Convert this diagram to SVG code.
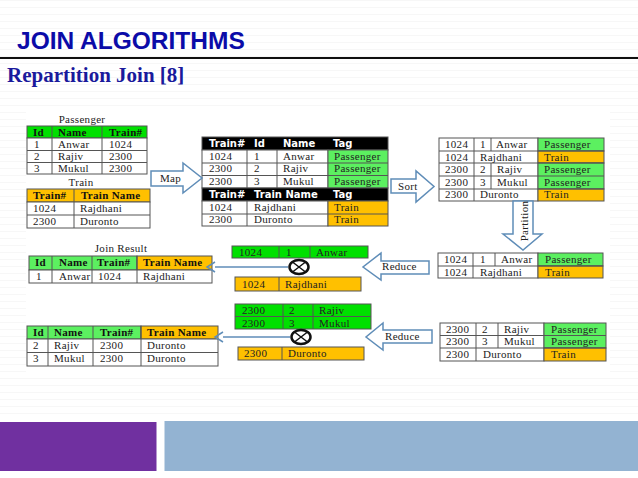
<svg xmlns="http://www.w3.org/2000/svg" width="638" height="478" viewBox="0 0 638 478">
<style>
text{font-family:"Liberation Serif","Times New Roman",serif;font-size:11px;fill:#222;letter-spacing:.3px}
.b{font-weight:bold;fill:#111}
.w{font-family:"DejaVu Sans",sans-serif;font-weight:bold;font-size:10px;fill:#fff;letter-spacing:0}
.c{fill:#fff;stroke:#555;stroke-width:1}
.g{fill:#00e000;stroke:#555;stroke-width:1}
.lg{fill:#5cf060;stroke:#555;stroke-width:1}
.o{fill:#ffc000;stroke:#555;stroke-width:1}
.k{fill:#000;stroke:#555;stroke-width:1}
.l{fill:none;stroke:#555;stroke-width:1}
.a{fill:#fff;stroke:#5f8db8;stroke-width:1.5}
.e{fill:#fff;stroke:#111;stroke-width:2.5}
.x{fill:none;stroke:#111;stroke-width:1.5}
.f{fill:none;stroke:#5f8db8;stroke-width:1.5}
</style>
<defs>
<pattern id="st" width="10" height="7" patternUnits="userSpaceOnUse"><rect width="10" height="1" fill="#f7f7f7"/></pattern>
<marker id="op" markerWidth="11" markerHeight="12" refX="1" refY="6" orient="auto" markerUnits="userSpaceOnUse"><path d="M9 1L1 6L9 11" class="f" transform="rotate(180 5 6)"/></marker>
</defs>
<rect width="638" height="478" fill="#fff"/>
<rect width="638" height="420" fill="url(#st)"/>
<rect x="26" y="106" width="584" height="266" fill="#fff"/>

<g id="header">
<text x="17" y="49" style="font-family:'Liberation Sans',Arial,sans-serif;font-weight:bold;font-size:24.500px;fill:#0b0ba8;letter-spacing:0">JOIN ALGORITHMS</text>
<rect x="0" y="57" width="638" height="2" fill="#111"/>
<text x="7" y="82" style="font-weight:bold;font-size:21px;fill:#1a1a9c;letter-spacing:0">Repartition Join [8]</text>
</g>

<g id="passenger-table">
<text x="82" y="123" text-anchor="middle">Passenger</text>
<rect class="g" x="27" y="126" width="120" height="12"/>
<rect class="c" x="27" y="138" width="120" height="36"/>
<path class="l" d="M27 150.500H147M27 162.500H147M52 126V174M102 126V174"/>
<text class="b" x="33" y="136">Id</text><text class="b" x="58" y="136">Name</text><text class="b" x="109" y="136">Train#</text>
<text x="34" y="148">1</text><text x="58" y="148">Anwar</text><text x="109" y="148">1024</text>
<text x="34" y="160">2</text><text x="58" y="160">Rajiv</text><text x="109" y="160">2300</text>
<text x="34" y="172">3</text><text x="58" y="172">Mukul</text><text x="109" y="172">2300</text>
</g>

<g id="train-table">
<text x="81" y="186" text-anchor="middle">Train</text>
<rect class="o" x="27" y="189" width="123" height="13"/>
<rect class="c" x="27" y="202" width="123" height="26"/>
<path class="l" d="M27 215H150M74 189V228"/>
<text class="b" x="33" y="199">Train#</text><text class="b" x="81" y="199">Train Name</text>
<text x="33" y="212">1024</text><text x="80" y="212">Rajdhani</text>
<text x="33" y="225">2300</text><text x="80" y="225">Duronto</text>
</g>

<g id="map-output-table">
<rect class="k" x="202" y="137" width="186" height="13"/>
<rect class="c" x="202" y="150" width="126" height="38"/>
<rect class="lg" x="328" y="150" width="60" height="38"/>
<path class="l" d="M202 163H388M202 175.500H388M247 150V188M277 150V188"/>
<rect class="k" x="202" y="188" width="186" height="13"/>
<rect class="c" x="202" y="201" width="126" height="25"/>
<rect class="o" x="328" y="201" width="60" height="25"/>
<path class="l" d="M202 214H388M247 201V226"/>
<text class="w" x="209" y="147">Train#</text><text class="w" x="254" y="147">Id</text><text class="w" x="283" y="147">Name</text><text class="w" x="333" y="147">Tag</text>
<text x="209" y="160">1024</text><text x="254" y="160">1</text><text x="283" y="160">Anwar</text><text x="334" y="160">Passenger</text>
<text x="209" y="172">2300</text><text x="254" y="172">2</text><text x="283" y="172">Rajiv</text><text x="334" y="172">Passenger</text>
<text x="209" y="185">2300</text><text x="254" y="185">3</text><text x="283" y="185">Mukul</text><text x="334" y="185">Passenger</text>
<text class="w" x="209" y="198">Train#</text><text class="w" x="254" y="198">Train Name</text><text class="w" x="333" y="198">Tag</text>
<text x="209" y="211">1024</text><text x="254" y="211">Rajdhani</text><text x="334" y="211">Train</text>
<text x="209" y="223">2300</text><text x="254" y="223">Duronto</text><text x="334" y="223">Train</text>
</g>

<g id="sorted-table">
<rect class="c" x="439" y="138" width="99" height="63"/>
<rect class="lg" x="538" y="138" width="66" height="13"/>
<rect class="o" x="538" y="151" width="66" height="12"/>
<rect class="lg" x="538" y="163" width="66" height="26"/>
<rect class="o" x="538" y="189" width="66" height="12"/>
<path class="l" d="M439 151H604M439 163H604M439 176H604M439 189H604M474 138V201M491 138V151M491 163V189"/>
<text x="445" y="148">1024</text><text x="480" y="148">1</text><text x="496" y="148">Anwar</text><text x="544" y="148">Passenger</text>
<text x="445" y="161">1024</text><text x="480" y="161">Rajdhani</text><text x="544" y="161">Train</text>
<text x="445" y="173">2300</text><text x="480" y="173">2</text><text x="497" y="173">Rajiv</text><text x="544" y="173">Passenger</text>
<text x="445" y="186">2300</text><text x="480" y="186">3</text><text x="497" y="186">Mukul</text><text x="544" y="186">Passenger</text>
<text x="445" y="198">2300</text><text x="480" y="198">Duronto</text><text x="544" y="198">Train</text>
</g>

<g id="partition-1-table">
<rect class="c" x="438" y="253" width="100" height="25"/>
<rect class="lg" x="538" y="253" width="65" height="13"/>
<rect class="o" x="538" y="266" width="65" height="12"/>
<path class="l" d="M438 266H603M473 253V278M495 253V266"/>
<text x="444" y="263">1024</text><text x="480" y="263">1</text><text x="501" y="263">Anwar</text><text x="545" y="263">Passenger</text>
<text x="444" y="276">1024</text><text x="480" y="276">Rajdhani</text><text x="545" y="276">Train</text>
</g>

<g id="partition-2-table">
<rect class="c" x="440" y="323" width="104" height="38"/>
<rect class="lg" x="544" y="323" width="62" height="25"/>
<rect class="o" x="544" y="348" width="62" height="13"/>
<path class="l" d="M440 335.500H606M440 348H606M476 323V361M498 323V348"/>
<text x="446" y="333">2300</text><text x="482" y="333">2</text><text x="504" y="333">Rajiv</text><text x="551" y="333">Passenger</text>
<text x="446" y="345">2300</text><text x="482" y="345">3</text><text x="504" y="345">Mukul</text><text x="551" y="345">Passenger</text>
<text x="446" y="358">2300</text><text x="483" y="358">Duronto</text><text x="551" y="358">Train</text>
</g>

<g id="join-input-1">
<rect class="g" x="232" y="246" width="136" height="12"/>
<path class="l" d="M279 246V258M310 246V258"/>
<text x="239" y="256">1024</text><text x="286" y="256">1</text><text x="316" y="256">Anwar</text>
<rect class="o" x="235" y="277" width="126" height="14"/>
<path class="l" d="M279 277V291"/>
<text x="242" y="288">1024</text><text x="285" y="288">Rajdhani</text>
</g>

<g id="join-input-2">
<rect class="g" x="235" y="304" width="136" height="25"/>
<path class="l" d="M235 316.500H371M283 304V329M313 304V329"/>
<text x="242" y="314">2300</text><text x="289" y="314">2</text><text x="319" y="314">Rajiv</text>
<text x="242" y="327">2300</text><text x="289" y="327">3</text><text x="319" y="327">Mukul</text>
<rect class="o" x="238" y="347" width="126" height="13"/>
<path class="l" d="M282 347V360"/>
<text x="244" y="357">2300</text><text x="288" y="357">Duronto</text>
</g>

<g id="join-result-table">
<text x="121" y="252" text-anchor="middle">Join Result</text>
<rect class="lg" x="29" y="256" width="108" height="14"/>
<rect class="o" x="137" y="256" width="75" height="14"/>
<rect class="c" x="29" y="270" width="183" height="13"/>
<path class="l" d="M52 256V283M92 256V283M137 256V283"/>
<text class="b" x="35" y="266">Id</text><text class="b" x="59" y="266">Name</text><text class="b" x="97" y="266">Train#</text><text class="b" x="143" y="266">Train Name</text>
<text x="36" y="280">1</text><text x="59" y="280">Anwar</text><text x="98" y="280">1024</text><text x="143" y="280">Rajdhani</text>
</g>

<g id="result-table-2">
<rect class="lg" x="27" y="326" width="114" height="13"/>
<rect class="o" x="141" y="326" width="77" height="13"/>
<rect class="c" x="27" y="339" width="191" height="27"/>
<path class="l" d="M27 352.500H218M48 326V366M93 326V366M141 326V366"/>
<text class="b" x="33" y="336">Id</text><text class="b" x="54" y="336">Name</text><text class="b" x="100" y="336">Train#</text><text class="b" x="147" y="336">Train Name</text>
<text x="33" y="349">2</text><text x="54" y="349">Rajiv</text><text x="100" y="349">2300</text><text x="147" y="349">Duronto</text>
<text x="33" y="362">3</text><text x="54" y="362">Mukul</text><text x="100" y="362">2300</text><text x="147" y="362">Duronto</text>
</g>

<g id="connectors">
<polygon class="a" points="151,171 183,171 183,163 202,178 183,193 183,186 151,186"/>
<text x="160" y="182">Map</text>
<polygon class="a" points="391,179 416,179 416,171 434,186.500 416,202 416,193 391,193"/>
<text x="398" y="190">Sort</text>
<polygon class="a" points="513,201 533,201 533,234 542,234 523,250 503,234 513,234"/>
<text transform="translate(528 221) rotate(-90)" text-anchor="middle">Partition</text>
<polygon class="a" points="429,261 381,261 381,253 363,267 381,280 381,274 429,274"/>
<text x="382" y="270">Reduce</text>
<polygon class="a" points="432,330 383,330 383,323 366,337 383,350 383,343 432,343"/>
<text x="385" y="340">Reduce</text>
<path class="f" d="M288 267H215" marker-end="url(#op)"/>
<path class="f" d="M290 337H223" marker-end="url(#op)"/>
<g><ellipse class="e" cx="299" cy="267" rx="9.500" ry="7"/><path class="x" d="M292.500 262L305.500 272M305.500 262L292.500 272"/></g>
<g><ellipse class="e" cx="301" cy="337" rx="9.500" ry="7"/><path class="x" d="M294.500 332L307.500 342M307.500 332L294.500 342"/></g>
</g>

<g id="footer">
<rect x="0" y="422" width="156.500" height="49" fill="#7030a0"/>
<rect x="164.500" y="421" width="473.500" height="50" fill="#93b3d2"/>
</g>
</svg>
